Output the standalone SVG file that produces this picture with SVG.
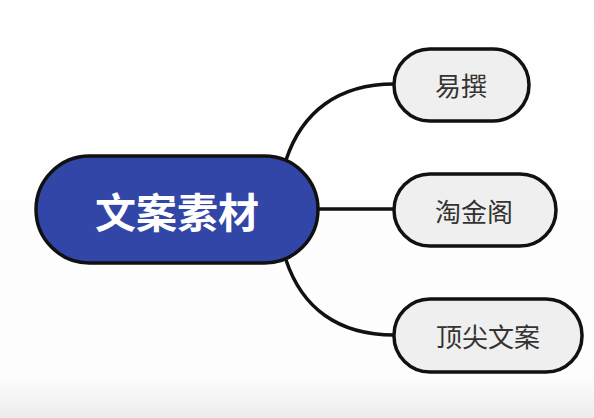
<svg xmlns="http://www.w3.org/2000/svg" width="594" height="418" viewBox="0 0 594 418">
<defs>
<linearGradient id="bg" x1="0" y1="0" x2="0" y2="1">
<stop offset="0" stop-color="#ffffff"/>
<stop offset="0.9" stop-color="#fdfdfd"/>
<stop offset="1" stop-color="#ececec"/>
</linearGradient>
</defs>
<style>
.conn{fill:none;stroke:#111;stroke-width:3.5}
.child rect{fill:#efefef;stroke:#111;stroke-width:3.5}
.child text{font-family:"Noto Sans CJK SC","Noto Sans",sans-serif;font-size:26px;fill:#333;text-anchor:middle;dominant-baseline:central}
</style>
<rect width="594" height="418" fill="url(#bg)"/>
<g id="connectors">
<path class="conn" d="M286,160 C302,112 338,84 394,84"/>
<path class="conn" d="M318,209 L394,209"/>
<path class="conn" d="M286,260 C302,308 338,335 394,335"/>
</g>
<g id="root">
<rect x="36" y="156" width="282" height="107" rx="53.5" fill="#3246a8" stroke="#111" stroke-width="3.5"/>
<text x="177" y="210" font-family="Noto Sans CJK SC,Noto Sans,sans-serif" font-size="41" font-weight="bold" fill="#fff" text-anchor="middle" dominant-baseline="central">文案素材</text>
</g>
<g id="n1" class="child">
<rect x="394" y="49" width="135" height="72" rx="36"/>
<text x="461" y="84">易撰</text>
</g>
<g id="n2" class="child">
<rect x="394" y="174" width="162" height="72" rx="36"/>
<text x="474" y="210">淘金阁</text>
</g>
<g id="n3" class="child">
<rect x="394" y="299" width="188" height="73" rx="36"/>
<text x="488" y="335">顶尖文案</text>
</g>
</svg>
